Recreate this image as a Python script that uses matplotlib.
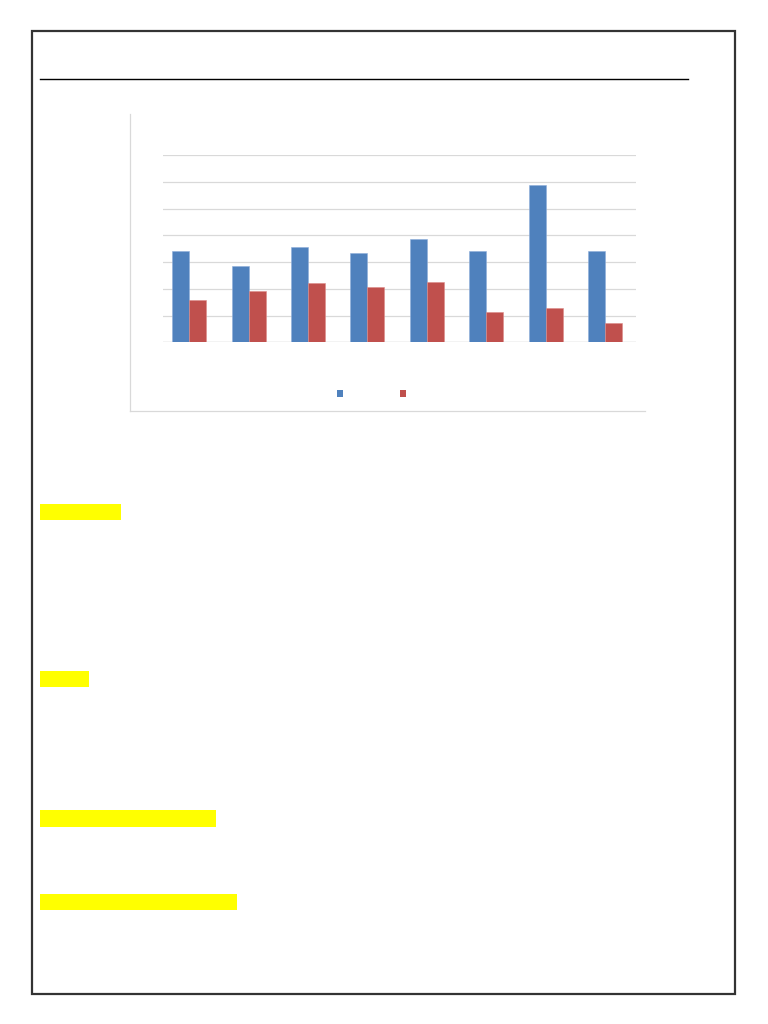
import numpy as np
import matplotlib.pyplot as plt
from matplotlib.patches import Rectangle, Patch
from matplotlib.lines import Line2D

# values (no text labels are visible in it)
categories = ['1', '2', '3', '4', '5', '6', '7', '8']
series_a = [3.43, 2.87, 3.55, 3.33, 3.85, 3.43, 5.87, 3.43]
series_b = [1.58, 1.92, 2.23, 2.07, 2.27, 1.13, 1.27, 0.73]

W, H = 768, 1024
fig = plt.figure(figsize=(W / 100, H / 100), dpi=100)


def fx(px):
    return px / W


def fy(py):
    return 1 - py / H


# page frame and header rule
fig.add_artist(Rectangle((fx(31.5), fy(993.5)), fx(735) - fx(31.5), fy(30.5) - fy(993.5),
                         fill=False, edgecolor='#333333', linewidth=1.6))
fig.add_artist(Line2D([fx(40), fx(688)], [fy(78.5), fy(78.5)], color='black', linewidth=1.0))

# chart panel outline (left and bottom only)
fig.add_artist(Line2D([fx(130), fx(130)], [fy(114), fy(411)], color='#d9d9d9', linewidth=0.9))
fig.add_artist(Line2D([fx(130), fx(645)], [fy(411), fy(411)], color='#d9d9d9', linewidth=0.9))

# plot area
ax = fig.add_axes([fx(163), fy(342.3), fx(636) - fx(163), fy(155) - fy(342.3)])
x = np.arange(len(categories))
bw = 0.285
ax.bar(x - bw / 2, series_a, bw, color='#4f81bd', edgecolor='#8eaedb', linewidth=0.4, zorder=3)
ax.bar(x + bw / 2, series_b, bw, color='#c0504d', edgecolor='#dc8c8a', linewidth=0.4, zorder=3)
ax.set_xlim(-0.44, 7.52)
ax.set_ylim(0, 7)
ax.set_yticks(np.arange(0, 8))
ax.yaxis.grid(True, color='#d9d9d9', linewidth=0.9, zorder=0)
ax.set_xticks([])
ax.tick_params(left=False, labelleft=False)
for s in ax.spines.values():
    s.set_visible(False)
ax.axhline(0, color='#d9d9d9', linewidth=1.0, zorder=2)

# legend markers without text
handles = [Patch(facecolor='#4f81bd'), Patch(facecolor='#c0504d')]
fig.legend(handles, [' ', ' '], ncol=2, frameon=False, fontsize=8,
           loc='center left', bbox_to_anchor=(fx(337), fy(394.5)),
           borderpad=0, borderaxespad=0, handlelength=0.55, handleheight=0.55,
           handletextpad=0.8, columnspacing=4.0)

# yellow highlight blocks
for x0, y0, x1, y1 in [(40, 503.5, 121, 520.3), (40, 671, 89, 687),
                       (40, 810, 216, 827), (40, 893.7, 237, 909.7)]:
    fig.add_artist(Rectangle((fx(x0), fy(y1)), fx(x1) - fx(x0), fy(y0) - fy(y1),
                             facecolor='#ffff00', edgecolor='none'))

fig.savefig('out.png', dpi=100)
